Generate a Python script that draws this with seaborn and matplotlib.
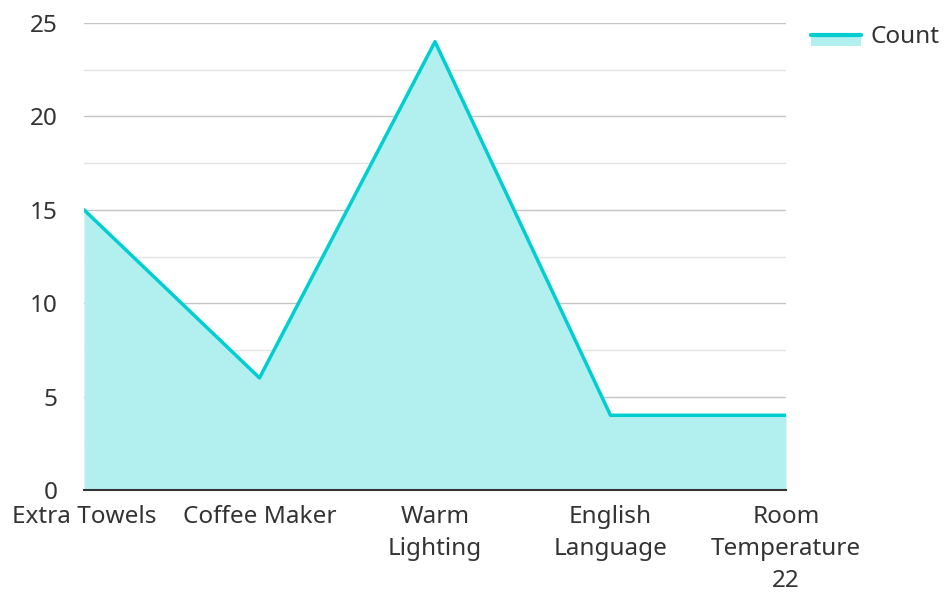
import matplotlib
matplotlib.use("Agg")
import matplotlib.pyplot as plt
import seaborn as sns
import pandas as pd
from matplotlib.patches import Rectangle
from matplotlib.lines import Line2D
from matplotlib.legend_handler import HandlerBase
from matplotlib.ticker import MultipleLocator

categories = ["Extra Towels", "Coffee Maker", "Warm\nLighting", "English\nLanguage", "Room\nTemperature\n22"]
counts = [15, 6, 24, 4, 4]
series_name = "Count"

LINE = "#00CED1"
FILL = "#B2EFEF"
FS = 17.5

sns.set_theme(style="white")
plt.rcParams['font.family'] = ['Noto Sans', 'DejaVu Sans']

df = pd.DataFrame({"cat": categories, "x": range(len(categories)), "count": counts})

fig = plt.figure(figsize=(9.44, 5.94), dpi=100)
ax = fig.add_axes([84/944, 104/594, (786-84)/944, (490-23)/594])

ax.fill_between(df["x"], 0, df["count"], color=FILL, linewidth=0, zorder=1)
sns.lineplot(data=df, x="x", y="count", ax=ax, color=LINE, linewidth=2.5, zorder=3)

ax.set_xlim(0, len(categories) - 1)
ax.set_ylim(0, 25)
ax.yaxis.set_major_locator(MultipleLocator(5))
ax.yaxis.set_minor_locator(MultipleLocator(2.5))
ax.grid(which="major", axis="y", color="#c4c4c4", linewidth=1, zorder=2)
ax.grid(which="minor", axis="y", color="#e3e3e3", linewidth=1, zorder=2)
for s in ["top", "right", "left"]:
    ax.spines[s].set_visible(False)
ax.spines["bottom"].set_color("#333333")
ax.spines["bottom"].set_linewidth(1.5)
ax.spines["bottom"].set_zorder(4)

ax.set_xticks(df["x"])
ax.set_xticklabels(categories, fontsize=FS, color="#333333", linespacing=1.45)
ax.tick_params(axis="y", which="both", labelsize=FS, labelcolor="#333333", length=0, pad=19)
ax.tick_params(axis="x", length=0, pad=11)
ax.set_xlabel("")
ax.set_ylabel("")


class AreaHandler(HandlerBase):
    def create_artists(self, legend, orig_handle, xdescent, ydescent, width, height, fontsize, trans):
        y0 = -ydescent - 0.15 * height
        h = height * 0.62
        r = Rectangle((-xdescent, y0), width, h, facecolor=FILL, edgecolor="none", transform=trans)
        l = Line2D([-xdescent, -xdescent + width], [y0 + h, y0 + h], color=LINE, linewidth=3, transform=trans)
        return [r, l]


handle = Rectangle((0, 0), 1, 1)
fig.legend([handle], [series_name], handler_map={Rectangle: AreaHandler()},
           loc="upper left", bbox_to_anchor=(811/944, 1 - 25/594), frameon=False,
           fontsize=FS, handlelength=2.05, handletextpad=0.4, labelcolor="#333333",
           borderaxespad=0, borderpad=0)

fig.savefig("out.png", dpi=100)
